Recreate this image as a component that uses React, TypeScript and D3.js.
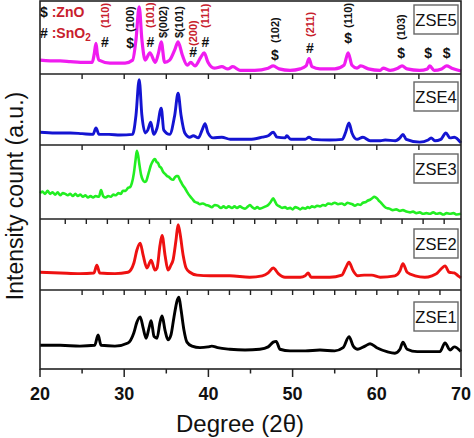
import React from 'react';
import * as d3 from 'd3';

// ---------- data ----------
const sampleNames = ['ZSE5', 'ZSE4', 'ZSE3', 'ZSE2', 'ZSE1'];
const sampleColors = ['#f01cf0', '#1414d2', '#22ee22', '#ee1111', '#000000'];

const xMajorTicks = [20, 30, 40, 50, 60, 70];
const xMinorTicks = [25, 35, 45, 55, 65];
const panelTicks5 = [25, 30, 35, 40, 45, 50, 55, 60, 65];
const panelTicksA = [23, 25.5, 28, 30.5, 33, 35.5, 38, 40.5, 43, 45.5, 48, 50.5, 53, 55.5, 58, 60.5, 63, 65.5, 68];
const panelTicksB = [25, 27.5, 30, 32.5, 35, 37.5, 40, 42.5, 45, 47.5, 50, 52.5, 55, 57.5, 60, 62.5, 65, 67.5];

// [2theta, relative intensity (0-100 of the panel)]
const zse5: [number, number][] = [
  [20, 19], [21.2, 18], [22.4, 18], [23.6, 17], [24.8, 16], [26.2, 16], [26.45, 28], [26.65, 42], [26.8, 28], [27.0, 19],
  [28.3, 15], [30.1, 15], [31.0, 19], [31.4, 47], [31.78, 92], [32.1, 47], [32.5, 19], [33.05, 29], [33.7, 16],
  [34.1, 30], [34.4, 44], [34.8, 16], [35.4, 19], [36.0, 33], [36.4, 44], [36.9, 26], [37.5, 12], [37.9, 16],
  [38.4, 11], [39.1, 23], [39.5, 29], [39.95, 16], [40.7, 8], [41.6, 10], [42.3, 7], [42.9, 10], [43.75, 5],
  [45.5, 5], [47.1, 8], [47.7, 11], [48.4, 7], [49.7, 5], [50.9, 7], [51.6, 11], [51.95, 21], [52.3, 10],
  [53.25, 7], [55.0, 7], [56.1, 12], [56.6, 29], [57.05, 12], [57.65, 8], [58.1, 11], [59.0, 7], [60.4, 5],
  [60.75, 8], [61.6, 5], [62.5, 8], [63.0, 11], [63.6, 7], [65.1, 5], [66.0, 7], [66.3, 11], [66.8, 5],
  [67.7, 7], [68.3, 11], [68.9, 8], [70, 4],
];

const zse4: [number, number][] = [
  [20, 18], [21.8, 17], [23.6, 17], [25.0, 16], [26.3, 15], [26.65, 24], [27.0, 15], [28.2, 15], [29.5, 14],
  [31.0, 15], [31.4, 42], [31.78, 92], [32.1, 42], [32.5, 17], [32.8, 21], [33.15, 32], [33.5, 15], [33.9, 24],
  [34.4, 52], [34.7, 21], [35.4, 15], [36.0, 42], [36.4, 73], [36.75, 42], [37.2, 17], [37.8, 11], [38.2, 13],
  [38.8, 10], [39.25, 21], [39.6, 30], [39.95, 17], [40.55, 10], [41.6, 11], [42.6, 8], [44.9, 8], [46.4, 11],
  [47.1, 13], [47.7, 18], [48.15, 11], [49.1, 10], [49.3, 13], [49.8, 8], [51.5, 8], [51.95, 11], [52.4, 8],
  [54.4, 7], [55.9, 8], [56.3, 18], [56.7, 31], [57.05, 17], [57.65, 8], [58.35, 11], [59.2, 6], [60.4, 6],
  [61.0, 7], [62.2, 6], [62.75, 10], [63.1, 15], [63.5, 8], [65.1, 4], [66.1, 7], [66.45, 10], [66.9, 6],
  [67.6, 8], [68.2, 17], [68.7, 10], [69.2, 11], [70, 3],
];

const zse3: [number, number][] = [
  [20, 35], [20.3, 37], [20.6, 34], [20.9, 38], [21.2, 34], [21.5, 36], [21.8, 33], [22.1, 36], [22.4, 32],
  [22.7, 35], [23.0, 34], [23.3, 32], [23.6, 34], [23.9, 31], [24.2, 34], [24.5, 31], [24.8, 33], [25.1, 30],
  [25.4, 32], [25.7, 29], [26.0, 31], [26.3, 29], [26.6, 31], [27.0, 30], [27.25, 39], [27.5, 31], [27.8, 29],
  [28.1, 31], [28.4, 30], [28.7, 33], [29.0, 32], [29.3, 35], [29.6, 34], [29.85, 38], [30.15, 38], [30.45, 42],
  [30.7, 43], [30.9, 48], [31.15, 62], [31.35, 80], [31.5, 92], [31.65, 86], [31.8, 74], [32.0, 60], [32.2, 53],
  [32.4, 50], [32.6, 51], [32.8, 58], [32.95, 64], [33.15, 72], [33.3, 76], [33.5, 80], [33.65, 81], [33.85, 77],
  [34.0, 76], [34.2, 71], [34.4, 69], [34.6, 64], [34.85, 61], [35.1, 58], [35.3, 57], [35.55, 54], [35.8, 53],
  [36.0, 56], [36.2, 58], [36.4, 58], [36.6, 53], [36.75, 50], [37.0, 45], [37.2, 42], [37.5, 36], [37.8, 31],
  [38.1, 27], [38.4, 23], [38.7, 22], [39.0, 20], [39.35, 21], [39.7, 19], [40.05, 18], [40.4, 16], [40.75, 19],
  [41.1, 18], [41.5, 15], [41.8, 17], [42.1, 15], [42.4, 17], [42.8, 15], [43.1, 17], [43.4, 15], [43.75, 17],
  [44.05, 15], [44.35, 14], [44.7, 17], [44.95, 19], [45.2, 16], [45.5, 14], [45.8, 16], [46.1, 14], [46.4, 15],
  [46.8, 17], [47.1, 19], [47.4, 23], [47.7, 28], [47.9, 24], [48.15, 19], [48.45, 17], [48.75, 15], [49.1, 16],
  [49.4, 14], [49.7, 15], [50.0, 13], [50.3, 16], [50.6, 15], [50.9, 13], [51.2, 15], [51.5, 14], [51.8, 16],
  [52.05, 15], [52.3, 17], [52.6, 16], [52.9, 18], [53.25, 17], [53.6, 19], [53.9, 18], [54.2, 21], [54.6, 20],
  [55.0, 22], [55.4, 20], [55.85, 21], [56.2, 19], [56.5, 22], [56.8, 21], [57.1, 20], [57.4, 18], [57.75, 20],
  [58.05, 19], [58.35, 22], [58.7, 23], [58.95, 25], [59.2, 26], [59.45, 28], [59.7, 30], [59.9, 29], [60.1, 27],
  [60.3, 24], [60.5, 22], [60.8, 18], [61.1, 15], [61.5, 14], [61.9, 12], [62.3, 13], [62.75, 11], [63.1, 12],
  [63.5, 10], [63.95, 9], [64.3, 10], [64.7, 8], [65.1, 9], [65.5, 7], [65.9, 8], [66.3, 7], [66.7, 9],
  [67.1, 7], [67.5, 8], [67.9, 6], [68.3, 8], [68.7, 7], [69.1, 8], [69.5, 6], [70, 7],
];

const zse2: [number, number][] = [
  [20, 25], [22.4, 24], [24.75, 23], [26.4, 24], [26.75, 35], [27.1, 24], [28.9, 23], [30.45, 25], [31.15, 38],
  [31.5, 56], [31.9, 66], [32.25, 49], [32.7, 31], [33.2, 42], [33.65, 28], [33.9, 31], [34.25, 63], [34.5, 77],
  [34.85, 49], [35.2, 28], [35.55, 35], [35.8, 42], [36.15, 70], [36.4, 92], [36.6, 82], [37.0, 49], [37.35, 31],
  [37.8, 25], [38.65, 21], [40.2, 20], [42.55, 20], [44.9, 18], [46.4, 20], [47.1, 24], [47.7, 31], [48.3, 23],
  [49.1, 18], [50.9, 18], [51.5, 20], [51.85, 24], [52.2, 18], [54.4, 18], [55.85, 21], [56.3, 31], [56.7, 39],
  [57.2, 27], [57.75, 20], [58.5, 21], [59.4, 21], [60.4, 18], [62.15, 20], [62.75, 27], [63.1, 37], [63.6, 25],
  [64.55, 20], [65.7, 18], [66.55, 20], [67.1, 23], [67.75, 31], [68.1, 34], [68.6, 25], [69.2, 24], [69.65, 20],
  [70, 17],
];

const zse1: [number, number][] = [
  [20, 30], [22.4, 30], [24.75, 29], [26.5, 30], [26.9, 43], [27.25, 30], [28.9, 29], [30.45, 33], [31.15, 46],
  [31.5, 59], [31.9, 66], [32.25, 52], [32.6, 39], [32.95, 52], [33.2, 61], [33.55, 41], [33.9, 39], [34.25, 59],
  [34.5, 67], [34.85, 49], [35.2, 37], [35.55, 43], [35.9, 65], [36.3, 87], [36.5, 91], [36.75, 75], [37.1, 49],
  [37.45, 34], [38.05, 29], [39.0, 27], [39.95, 28], [40.4, 29], [41.1, 27], [42.55, 25], [44.35, 24], [46.1, 25],
  [47.1, 28], [47.7, 34], [48.05, 35], [48.5, 25], [49.7, 23], [51.5, 23], [53.25, 24], [55.0, 23], [56.0, 27],
  [56.7, 41], [57.2, 29], [57.75, 25], [58.6, 29], [59.2, 32], [60.0, 27], [61.2, 22], [62.15, 20], [62.75, 25],
  [63.1, 34], [63.6, 25], [64.8, 22], [66.3, 22], [67.5, 22], [68.1, 33], [68.7, 24], [69.2, 28], [70, 22],
];

const seriesList = [zse5, zse4, zse3, zse2, zse1];

// peak labels: [2theta, text, phase]
const peakLabels: [number, string, string][] = [
  [27.7, '(110)', 'SnO2'],
  [30.7, '(100)', 'ZnO'],
  [33.1, '(101)', 'SnO2'],
  [34.55, '$(002)', 'ZnO'],
  [36.5, '$(101)', 'ZnO'],
  [38.2, '(200)', 'SnO2'],
  [39.65, '(111)', 'SnO2'],
  [47.9, '(102)', 'ZnO'],
  [52.05, '(211)', 'SnO2'],
  [56.6, '(110)', 'ZnO'],
  [62.9, '(103)', 'ZnO'],
];
const loneMarks: [number, string][] = [
  [66.1, '$'],
  [68.3, '$'],
];

// ---------- layout ----------
const W = 474;
const H = 438;
const left = 40;
const right = 461;
const panelTop = [1, 74, 145, 219, 290];
const panelBottom = [74, 145, 219, 290, 369];
const boxTop = [5, 82, 154, 229, 302];
// per label: bottom of rotated text, baseline of symbol (null = none)
const labelTextBottom = [28, 32, 28, 38, 38, 46, 28, 43, 37, 28, 40];
const labelSymBase = [47, 48, 47, null, null, 57, 47, 60, 53, 43, 58];
const RED = '#c8202c';
const FONT = '"Liberation Sans", Arial, Helvetica, sans-serif';

export default function App() {
  const x = d3.scaleLinear().domain([20, 70]).range([left, right]);
  const panelTickSets = [[], panelTicks5, panelTicks5, panelTicksA, panelTicksB];

  return (
    <svg
      width={W}
      height={H}
      viewBox={`0 0 ${W} ${H}`}
      style={{ position: 'absolute', left: 0, top: 0, background: '#fff' }}
      fontFamily={FONT}
    >
      <rect x={0} y={0} width={W} height={H} fill="#fff" />
      {seriesList.map((data, i) => {
        const y = d3.scaleLinear().domain([0, 100]).range([panelBottom[i], panelTop[i]]);
        const line = d3
          .line<[number, number]>()
          .x((d) => x(d[0]))
          .y((d) => y(d[1]))
          .curve(d3.curveMonotoneX);
        return (
          <g key={sampleNames[i]}>
            <path
              d={line(data) || ''}
              fill="none"
              stroke={sampleColors[i]}
              strokeWidth={i === 0 ? 3.2 : i === 2 ? 2.6 : 2.9}
              strokeLinejoin="round"
            />
            {panelTickSets[i].map((t) => (
              <line key={t} x1={x(t)} x2={x(t)} y1={panelTop[i]} y2={panelTop[i] + 5} stroke="#222" strokeWidth={1.4} />
            ))}
            {i > 0 && (
              <line x1={left} x2={right} y1={panelTop[i]} y2={panelTop[i]} stroke="#222" strokeWidth={1.6} />
            )}
            <rect x={414} y={boxTop[i]} width={44} height={29} fill="#fff" stroke="#666" strokeWidth={1.4} />
            <text x={436} y={boxTop[i] + 20.5} textAnchor="middle" fontSize={16.5} fill="#111">
              {sampleNames[i]}
            </text>
          </g>
        );
      })}

      {/* frame */}
      <rect x={left} y={panelTop[0]} width={right - left} height={panelBottom[4] - panelTop[0]} fill="none" stroke="#222" strokeWidth={1.6} />

      {/* bottom axis */}
      {xMajorTicks.map((t) => (
        <g key={'M' + t}>
          <line x1={x(t)} x2={x(t)} y1={369} y2={377} stroke="#222" strokeWidth={1.5} />
          <text x={x(t)} y={400} textAnchor="middle" fontSize={18} fontWeight="bold" fill="#111">
            {t}
          </text>
        </g>
      ))}
      {xMinorTicks.map((t) => (
        <line key={'m' + t} x1={x(t)} x2={x(t)} y1={369} y2={373.5} stroke="#222" strokeWidth={1.5} />
      ))}
      <text x={240} y={432} textAnchor="middle" fontSize={24} fill="#111">
        Degree (2θ)
      </text>
      <text transform="translate(23,196) rotate(-90)" textAnchor="middle" fontSize={23} fill="#111">
        Intensity count (a.u.)
      </text>

      {/* phase legend */}
      <text x={40} y={17} fontSize={14} fontWeight="bold">
        <tspan fill="#111">$</tspan>
        <tspan fill={RED}> :ZnO</tspan>
      </text>
      <text x={40} y={38} fontSize={14} fontWeight="bold">
        <tspan fill="#111">#</tspan>
        <tspan fill={RED}> :SnO</tspan>
        <tspan fill={RED} fontSize={10} dy={3}>2</tspan>
      </text>

      {/* peak labels */}
      {peakLabels.map(([deg, txt, phase], k) => {
        const cx = x(deg);
        const sym = phase === 'ZnO' ? '$' : '#';
        const sb = labelSymBase[k];
        return (
          <g key={'p' + k}>
            <text
              transform={`translate(${cx + 4},${labelTextBottom[k]}) rotate(-90)`}
              fontSize={11}
              fontWeight="bold"
              fill={phase === 'ZnO' ? '#111' : RED}
            >
              {txt}
            </text>
            {sb !== null && (
              <text x={cx} y={sb} textAnchor="middle" fontSize={14} fontWeight="bold" fill="#111">
                {sym}
              </text>
            )}
          </g>
        );
      })}
      {loneMarks.map(([deg, s], k) => (
        <text key={'l' + k} x={x(deg)} y={58} textAnchor="middle" fontSize={14} fontWeight="bold" fill="#111">
          {s}
        </text>
      ))}
    </svg>
  );
}
